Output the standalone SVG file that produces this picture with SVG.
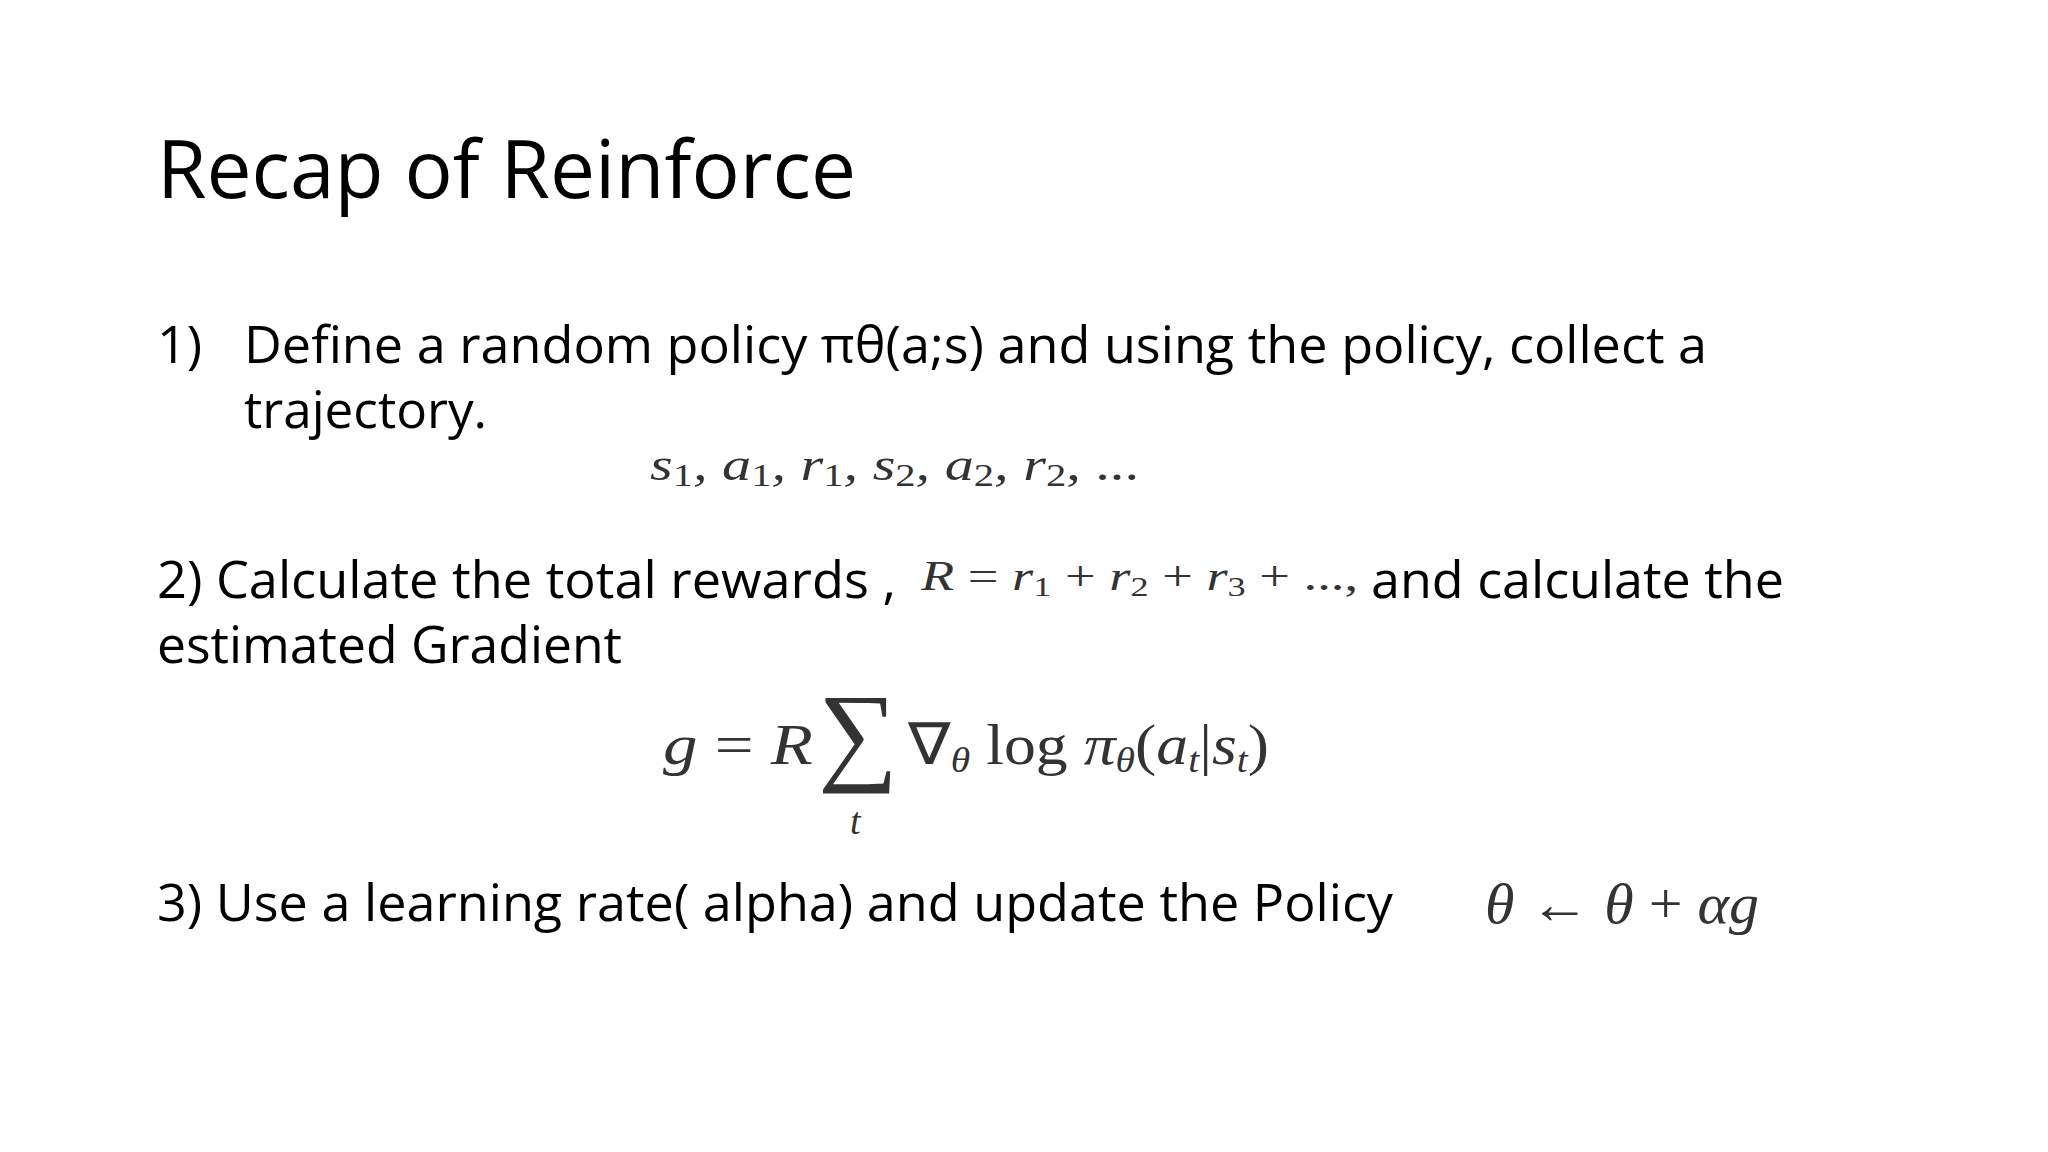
<svg xmlns="http://www.w3.org/2000/svg" width="2048" height="1152" viewBox="0 0 2048 1152">
<style>
.t{font-family:"Open Sans","Liberation Sans",sans-serif;fill:#000}
.b{font-size:52px}
.m{font-family:"Liberation Serif",serif;fill:#333;font-style:italic}
.u{font-style:normal}
</style>
<rect width="2048" height="1152" fill="#fff"/>
<g id="title"><text class="t" x="157" y="198" font-size="80" textLength="699" lengthAdjust="spacingAndGlyphs">Recap of Reinforce</text></g>
<g id="step1">
<text class="t b" x="157" y="363">1)</text>
<text class="t b" x="244" y="363" textLength="1463" lengthAdjust="spacingAndGlyphs">Define a random policy πθ(a;s) and using the policy, collect a</text>
<text class="t b" x="244" y="428" textLength="243" lengthAdjust="spacingAndGlyphs">trajectory.</text>
<text class="m" x="650" y="480" font-size="46" textLength="489" lengthAdjust="spacingAndGlyphs">s<tspan class="u" font-size="32" dy="6">1</tspan><tspan dy="-6">, a</tspan><tspan class="u" font-size="32" dy="6">1</tspan><tspan dy="-6">, r</tspan><tspan class="u" font-size="32" dy="6">1</tspan><tspan dy="-6">, s</tspan><tspan class="u" font-size="32" dy="6">2</tspan><tspan dy="-6">, a</tspan><tspan class="u" font-size="32" dy="6">2</tspan><tspan dy="-6">, r</tspan><tspan class="u" font-size="32" dy="6">2</tspan><tspan class="u" dy="-6">, ...</tspan></text>
</g>
<g id="step2">
<text class="t b" x="157" y="598" textLength="739" lengthAdjust="spacingAndGlyphs">2) Calculate the total rewards ,</text>
<text class="m" x="921" y="590" font-size="42" textLength="437" lengthAdjust="spacingAndGlyphs">R<tspan class="u"> = </tspan>r<tspan class="u" font-size="28" dy="6">1</tspan><tspan class="u" dy="-6"> + </tspan>r<tspan class="u" font-size="28" dy="6">2</tspan><tspan class="u" dy="-6"> + </tspan>r<tspan class="u" font-size="28" dy="6">3</tspan><tspan class="u" dy="-6"> + ...,</tspan></text>
<text class="t b" x="1371" y="598" textLength="413" lengthAdjust="spacingAndGlyphs">and calculate the</text>
<text class="t b" x="157" y="663" textLength="465" lengthAdjust="spacingAndGlyphs">estimated Gradient</text>
<text class="m" x="663" y="764" font-size="58" textLength="150" lengthAdjust="spacingAndGlyphs">g<tspan class="u"> = </tspan>R</text>
<text class="m u" x="818" y="770" font-size="110" textLength="80" lengthAdjust="spacingAndGlyphs">∑</text>
<text class="m" x="850" y="834" font-size="38">t</text>
<text class="m" x="908" y="764" font-size="58" textLength="361" lengthAdjust="spacingAndGlyphs"><tspan class="u">∇</tspan><tspan font-size="36" dy="8">θ</tspan><tspan class="u" dy="-8"> log </tspan>π<tspan font-size="36" dy="8">θ</tspan><tspan class="u" dy="-8">(</tspan>a<tspan font-size="36" dy="8">t</tspan><tspan class="u" dy="-8">|</tspan>s<tspan font-size="36" dy="8">t</tspan><tspan class="u" dy="-8">)</tspan></text>
</g>
<g id="step3">
<text class="t b" x="157" y="921" textLength="1236" lengthAdjust="spacingAndGlyphs">3) Use a learning rate( alpha) and update the Policy</text>
<text class="m" x="1485" y="923" font-size="56" textLength="274" lengthAdjust="spacingAndGlyphs">θ<tspan class="u"> ← </tspan>θ<tspan class="u"> + </tspan>αg</text>
</g>
</svg>
